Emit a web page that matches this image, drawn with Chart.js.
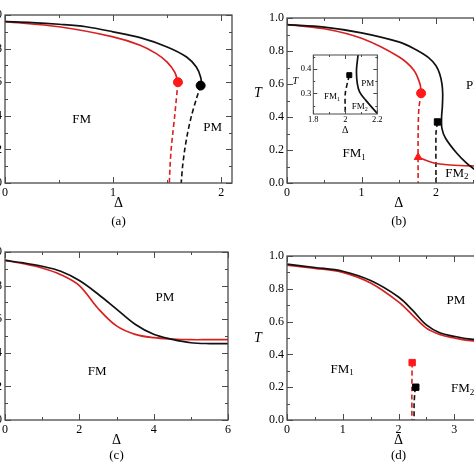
<!DOCTYPE html>
<html>
<head>
<meta charset="utf-8">
<script src="https://cdn.jsdelivr.net/npm/chart.js@4.4.1/dist/chart.umd.min.js"></script>
<style>
  html, body { margin: 0; padding: 0; background: #fff; width: 474px; height: 474px; overflow: hidden; position: relative; }
  canvas { position: absolute; }
</style>
</head>
<body>
<canvas id="chart-a"></canvas>
<canvas id="chart-b"></canvas>
<canvas id="chart-c"></canvas>
<canvas id="chart-d"></canvas>
<canvas id="chart-inset"></canvas>
<script>
/* Diagramas de fase T vs Delta — cuatro paneles (a)-(d) + recuadro */

var ROJO  = '#d82020';
var NEGRO = '#111111';
var SERIF = '"Liberation Serif", "DejaVu Serif", serif';

// ── DATOS PANEL (a) ─────────────────────────────────────────────
var aNegroX     = [0, 0.25, 0.5, 0.75, 1.0, 1.25, 1.5, 1.68, 1.77, 1.81, 1.82];
var aNegroT     = [0.96, 0.955, 0.945, 0.93, 0.90, 0.865, 0.81, 0.75, 0.69, 0.63, 0.58];
var aRojoX      = [0, 0.5, 1.0, 1.25, 1.4, 1.5, 1.57, 1.60];
var aRojoT      = [0.96, 0.93, 0.87, 0.82, 0.77, 0.72, 0.66, 0.60];
var aRojoDashX  = [1.60, 1.585, 1.57, 1.553, 1.537, 1.527, 1.52];
var aRojoDashT  = [0.60, 0.50, 0.40, 0.30, 0.20, 0.10, 0];
var aNegroDashX = [1.81, 1.77, 1.725, 1.69, 1.663, 1.643, 1.63];
var aNegroDashT = [0.58, 0.50, 0.40, 0.30, 0.20, 0.10, 0];

// ── DATOS PANEL (b) ─────────────────────────────────────────────
var bNegroX     = [0, 0.5, 1.0, 1.5, 1.7, 1.9, 2.0, 2.05, 2.08, 2.09, 2.085, 2.075, 2.08, 2.13, 2.28, 2.41, 2.51, 2.7];
var bNegroT     = [0.96, 0.945, 0.91, 0.855, 0.815, 0.76, 0.71, 0.66, 0.60, 0.54, 0.46, 0.40, 0.33, 0.27, 0.18, 0.12, 0.085, 0.03];
var bRojoX      = [0, 0.5, 1.0, 1.5, 1.7, 1.785, 1.80];
var bRojoT      = [0.96, 0.935, 0.877, 0.765, 0.685, 0.60, 0.544];
var bRojoDashX  = [1.80, 1.77, 1.76, 1.76];
var bRojoDashT  = [0.544, 0.45, 0.30, 0];
var bRojoBajoX  = [1.76, 1.96, 2.19, 2.51, 3.0];
var bRojoBajoT  = [0.156, 0.123, 0.109, 0.103, 0.10];
var bNegroDashX = [2.02, 2.0, 2.0];
var bNegroDashT = [0.37, 0.30, 0];

// recuadro de (b)
var iNegroX     = [2.08, 2.07, 2.075, 2.09, 2.13, 2.2];
var iNegroT     = [0.46, 0.396, 0.34, 0.305, 0.27, 0.217];
var iNegroDashX = [2.025, 2.0, 2.0];
var iNegroDashT = [0.375, 0.30, 0.215];

// ── DATOS PANEL (c) ─────────────────────────────────────────────
var cX      = [0, 0.5, 1, 1.5, 2, 2.5, 3, 3.5, 4, 4.5, 5, 5.5, 6];
var cNegroT = [0.95, 0.935, 0.915, 0.885, 0.83, 0.75, 0.66, 0.57, 0.51, 0.48, 0.46, 0.455, 0.455];
var cRojoT  = [0.95, 0.93, 0.905, 0.865, 0.80, 0.665, 0.56, 0.51, 0.49, 0.482, 0.478, 0.478, 0.478];

// ── DATOS PANEL (d) ─────────────────────────────────────────────
var dX      = [0, 0.5, 1, 1.5, 2, 2.25, 2.5, 2.75, 3, 3.25, 3.5, 4];
var dNegroT = [0.95, 0.93, 0.907, 0.85, 0.75, 0.67, 0.58, 0.53, 0.51, 0.495, 0.49, 0.485];
var dRojoT  = [0.945, 0.925, 0.90, 0.835, 0.72, 0.64, 0.56, 0.52, 0.50, 0.485, 0.48, 0.475];
var dRojoDashX  = [2.245, 2.24, 2.24];
var dRojoDashT  = [0.35, 0.20, 0];
var dNegroDashX = [2.30, 2.28, 2.28];
var dNegroDashT = [0.20, 0.10, 0];

// ── MARCADORES ──────────────────────────────────────────────────
var aPuntoRojo  = [1.60, 0.60];
var aPuntoNegro = [1.81, 0.58];
var bPuntoRojo  = [1.80, 0.544];
var bTriangulo  = [1.76, 0.156];
var bCuadNegro  = [2.02, 0.37];
var iCuadNegro  = [2.025, 0.375];
var dCuadRojo   = [2.245, 0.35];
var dCuadNegro  = [2.31, 0.20];

// ── TICKS ───────────────────────────────────────────────────────
var yEtiquetas = [0, 0.2, 0.4, 0.6, 0.8, 1.0];
var yMarcas    = [0, 0.1, 0.2, 0.3, 0.4, 0.5, 0.6, 0.7, 0.8, 0.9, 1.0];

// ── HELPERS ─────────────────────────────────────────────────────
function pts(xs, ys) {
  return xs.map(function(x, i) { return { x: x, y: ys[i] }; });
}

function curva(xs, ys, color, dash) {
  return {
    data: pts(xs, ys), showLine: true, borderColor: color, backgroundColor: color,
    borderWidth: dash ? 1.6 : 1.7, borderDash: dash ? [5, 3] : [],
    pointRadius: 0, tension: dash ? 0.25 : 0.35, fill: false
  };
}

function marca(p, color, estilo, r) {
  return {
    data: [{ x: p[0], y: p[1] }], showLine: false, pointStyle: estilo,
    pointRadius: r || 4.5, backgroundColor: color, borderColor: color, borderWidth: 1
  };
}

function contiene(lista, v) {
  return lista.some(function(w) { return Math.abs(w - v) < 1e-9; });
}

// dibuja marco, ticks interiores y textos
var marcoPlugin = {
  id: 'marco',
  afterDatasetsDraw: function(chart, args, o) {
    var ctx = chart.ctx, a = chart.chartArea;
    var sx = chart.scales.x, sy = chart.scales.y;
    ctx.save();
    ctx.strokeStyle = '#4a4a4a';
    ctx.lineWidth = o.grosor || 1.3;
    ctx.strokeRect(a.left, a.top, a.right - a.left, a.bottom - a.top);
    ctx.lineWidth = 1;
    var L = o.largo || 6, l = o.corto || 3;
    o.xMarcas.forEach(function(v) {
      var px = Math.round(sx.getPixelForValue(v)) + 0.5;
      var len = contiene(o.xEtiquetas, v) ? L : l;
      ctx.beginPath();
      ctx.moveTo(px, a.bottom); ctx.lineTo(px, a.bottom - len);
      ctx.moveTo(px, a.top);    ctx.lineTo(px, a.top + len);
      ctx.stroke();
    });
    o.yMarcas.forEach(function(v) {
      var py = Math.round(sy.getPixelForValue(v)) + 0.5;
      var len = contiene(o.yEtiquetas, v) ? L : l;
      ctx.beginPath();
      ctx.moveTo(a.left, py);  ctx.lineTo(a.left + len, py);
      ctx.moveTo(a.right, py); ctx.lineTo(a.right - len, py);
      ctx.stroke();
    });

    ctx.fillStyle = '#000';
    ctx.textBaseline = 'middle';
    (o.textos || []).forEach(function(t) {
      var fs = t.fs || 13;
      ctx.font = fs + 'px ' + SERIF;
      var w = ctx.measureText(t.t).width;
      var ws = 0;
      if (t.sub) { ctx.font = Math.round(fs * 0.7) + 'px ' + SERIF; ws = ctx.measureText(t.sub).width; }
      var px = sx.getPixelForValue(t.x), py = sy.getPixelForValue(t.y);
      var x0 = px - (w + ws) / 2;
      ctx.textAlign = 'left';
      ctx.font = fs + 'px ' + SERIF;
      ctx.fillText(t.t, x0, py);
      if (t.sub) {
        ctx.font = Math.round(fs * 0.7) + 'px ' + SERIF;
        ctx.fillText(t.sub, x0 + w, py + fs * 0.3);
      }
    });

    // títulos de ejes y etiqueta del panel
    var cx = (a.left + a.right) / 2;
    ctx.textAlign = 'center';
    if (o.delta) {
      ctx.font = (o.delta.fs || 14) + 'px ' + SERIF;
      ctx.fillText('\u0394', cx, a.bottom + o.delta.dy);
    }
    if (o.letra) {
      ctx.font = '13px ' + SERIF;
      ctx.fillText(o.letra.t, cx, a.bottom + o.letra.dy);
    }
    if (o.tTitulo) {
      ctx.font = 'italic ' + (o.tTitulo.fs || 14) + 'px ' + SERIF;
      ctx.fillText('T', a.left + o.tTitulo.dx, sy.getPixelForValue(o.tTitulo.y));
    }
    ctx.restore();
  }
};

function panel(id, caja, area, ejeX, ejeY, datasets, extra) {
  var yw = extra.yw || 40, xh = extra.xh || 24, fs = extra.fs || 12;
  var cv = document.getElementById(id);
  cv.width = caja.width; cv.height = caja.height;
  cv.style.left = caja.left + 'px'; cv.style.top = caja.top + 'px';
  cv.style.width = caja.width + 'px'; cv.style.height = caja.height + 'px';

  var tickFont = { family: SERIF, size: fs };
  return new Chart(cv.getContext('2d'), {
    type: 'scatter',
    data: { datasets: datasets },
    plugins: [marcoPlugin],
    options: {
      responsive: false, animation: false, devicePixelRatio: 1,
      layout: { padding: {
        left: area.left - caja.left - yw,
        top: area.top - caja.top,
        right: caja.left + caja.width - area.right,
        bottom: caja.top + caja.height - area.bottom - xh
      } },
      plugins: {
        legend: { display: false }, tooltip: { enabled: false },
        marco: Object.assign({
          xMarcas: ejeX.marcas, xEtiquetas: ejeX.etiquetas,
          yMarcas: ejeY.marcas, yEtiquetas: ejeY.etiquetas
        }, extra)
      },
      scales: {
        x: {
          type: 'linear', min: ejeX.min, max: ejeX.max,
          grid: { display: false, drawTicks: false }, border: { display: false },
          afterBuildTicks: function(s) { s.ticks = ejeX.etiquetas.map(function(v) { return { value: v }; }); },
          afterFit: function(s) { s.height = xh; },
          ticks: { padding: extra.xPad || 3, font: tickFont, color: '#000', maxRotation: 0, autoSkip: false, callback: ejeX.fmt }
        },
        y: {
          type: 'linear', min: ejeY.min, max: ejeY.max,
          grid: { display: false, drawTicks: false }, border: { display: false },
          afterBuildTicks: function(s) { s.ticks = ejeY.etiquetas.map(function(v) { return { value: v }; }); },
          afterFit: function(s) { s.width = yw; },
          ticks: { padding: extra.yPad || 3, font: tickFont, color: '#000', autoSkip: false, callback: ejeY.fmt }
        }
      }
    }
  });
}

function fmtEntero(v) { return String(v); }
function fmtDecimal(v) { return v.toFixed(1); }

var ejeT = { min: 0, max: 1, etiquetas: yEtiquetas, marcas: yMarcas, fmt: fmtDecimal };

// ── PANEL (a) ───────────────────────────────────────────────────
panel('chart-a',
  { left: -50, top: 0, width: 290, height: 237 },
  { left: 5, top: 15, right: 232, bottom: 183 },
  { min: 0, max: 2.1, etiquetas: [0, 1, 2], marcas: [0, 0.5, 1, 1.5, 2], fmt: fmtEntero },
  ejeT,
  [
    marca(aPuntoRojo, '#ff1a1a', 'circle'),
    marca(aPuntoNegro, '#000', 'circle'),
    curva(aNegroX, aNegroT, NEGRO),
    curva(aRojoX, aRojoT, ROJO),
    curva(aRojoDashX, aRojoDashT, ROJO, true),
    curva(aNegroDashX, aNegroDashT, NEGRO, true)
  ],
  {
    textos: [{ t: 'FM', x: 0.71, y: 0.38 }, { t: 'PM', x: 1.92, y: 0.33 }],
    delta: { dy: 20 }, letra: { t: '(a)', dy: 38.5 }
  });

// ── PANEL (b) ───────────────────────────────────────────────────
panel('chart-b',
  { left: 240, top: 0, width: 290, height: 237 },
  { left: 287, top: 18, right: 510.5, bottom: 183 },
  { min: 0, max: 3, etiquetas: [0, 1, 2, 3], marcas: [0, 0.5, 1, 1.5, 2, 2.5, 3], fmt: fmtEntero },
  ejeT,
  [
    marca(bPuntoRojo, '#ff1a1a', 'circle'),
    marca(bTriangulo, '#ff1a1a', 'triangle', 4.5),
    marca(bCuadNegro, '#000', 'rect', 4.5),
    curva(bNegroX, bNegroT, NEGRO),
    curva(bRojoX, bRojoT, ROJO),
    curva(bRojoBajoX, bRojoBajoT, ROJO),
    curva(bRojoDashX, bRojoDashT, ROJO, true),
    curva(bNegroDashX, bNegroDashT, NEGRO, true)
  ],
  {
    textos: [
      { t: 'FM', sub: '1', x: 0.90, y: 0.18 },
      { t: 'FM', sub: '2', x: 2.28, y: 0.06 },
      { t: 'PM', x: 2.53, y: 0.59 }
    ],
    delta: { dy: 20 }, letra: { t: '(b)', dy: 38.5 }, tTitulo: { dx: -29, y: 0.545 }
  });

// ── PANEL (c) ───────────────────────────────────────────────────
panel('chart-c',
  { left: -50, top: 237, width: 290, height: 237 },
  { left: 5, top: 252, right: 228, bottom: 420 },
  { min: 0, max: 6, etiquetas: [0, 2, 4, 6], marcas: [0, 1, 2, 3, 4, 5, 6], fmt: fmtEntero },
  ejeT,
  [
    curva(cX, cNegroT, NEGRO),
    curva(cX, cRojoT, ROJO)
  ],
  {
    textos: [{ t: 'PM', x: 4.30, y: 0.73 }, { t: 'FM', x: 2.48, y: 0.29 }],
    delta: { dy: 20 }, letra: { t: '(c)', dy: 36 }
  });

// ── PANEL (d) ───────────────────────────────────────────────────
panel('chart-d',
  { left: 240, top: 237, width: 290, height: 237 },
  { left: 287, top: 256, right: 510, bottom: 420 },
  { min: 0, max: 4, etiquetas: [0, 1, 2, 3, 4], marcas: [0, 0.5, 1, 1.5, 2, 2.5, 3, 3.5, 4], fmt: fmtEntero },
  ejeT,
  [
    marca(dCuadRojo, '#ff1a1a', 'rect', 4.5),
    marca(dCuadNegro, '#000', 'rect', 4.5),
    curva(dX, dNegroT, NEGRO),
    curva(dX, dRojoT, ROJO),
    curva(dRojoDashX, dRojoDashT, ROJO, true),
    curva(dNegroDashX, dNegroDashT, NEGRO, true)
  ],
  {
    textos: [
      { t: 'PM', x: 3.03, y: 0.73 },
      { t: 'FM', sub: '1', x: 0.99, y: 0.31 },
      { t: 'FM', sub: '2', x: 3.15, y: 0.19 }
    ],
    delta: { dy: 20 }, letra: { t: '(d)', dy: 36 }, tTitulo: { dx: -29, y: 0.5 }
  });

// ── RECUADRO de (b) ─────────────────────────────────────────────
panel('chart-inset',
  { left: 280, top: 45, width: 105, height: 95 },
  { left: 313.3, top: 55, right: 377.3, bottom: 114 },
  { min: 1.8, max: 2.2, etiquetas: [1.8, 2.0, 2.2], marcas: [1.8, 1.9, 2.0, 2.1, 2.2],
    fmt: function(v) { return Math.abs(v - 2) < 1e-9 ? '2' : v.toFixed(1); } },
  { min: 0.215, max: 0.458, etiquetas: [0.3, 0.4], marcas: [0.25, 0.3, 0.35, 0.4, 0.45], fmt: fmtDecimal },
  [
    marca(iCuadNegro, '#000', 'rect', 3.5),
    curva(iNegroX, iNegroT, NEGRO),
    curva(iNegroDashX, iNegroDashT, NEGRO, true)
  ],
  {
    yw: 22, xh: 13, fs: 8.5, xPad: 1, yPad: 2, largo: 4, corto: 2, grosor: 1,
    textos: [
      { t: 'PM', x: 2.14, y: 0.342, fs: 9 },
      { t: 'FM', sub: '1', x: 1.917, y: 0.285, fs: 9 },
      { t: 'FM', sub: '2', x: 2.09, y: 0.244, fs: 9 }
    ],
    delta: { dy: 16, fs: 10 }, tTitulo: { dx: -18, y: 0.35, fs: 10 }
  });
</script>
</body>
</html>
